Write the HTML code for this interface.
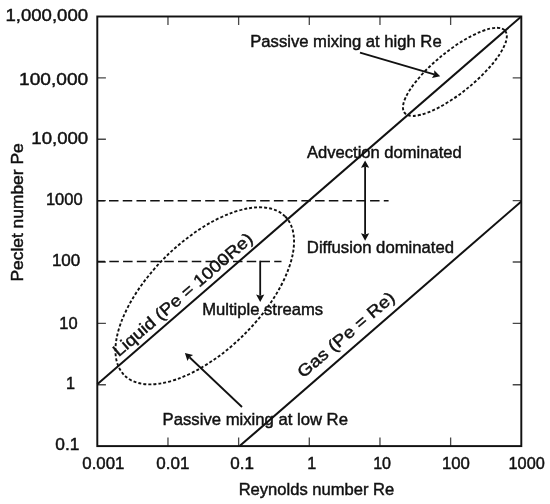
<!DOCTYPE html>
<html><head><meta charset="utf-8">
<style>
html,body{margin:0;padding:0;background:#fff;}
svg{display:block;}
text{font-family:"Liberation Sans",sans-serif;fill:#111;stroke:#111;stroke-width:0.45px;}
</style></head>
<body>
<svg width="550" height="504" viewBox="0 0 550 504">
<rect width="550" height="504" fill="#fff"/>
<!-- ticks -->
<g stroke="#484848" stroke-width="1.3" fill="none">
<path d="M167.97 16.5v8.6M238.63 16.5v8.6M309.30 16.5v8.6M379.97 16.5v8.6M450.63 16.5v8.6"/>
<path d="M167.97 446.1v-8.6M238.63 446.1v-8.6M309.30 446.1v-8.6M379.97 446.1v-8.6M450.63 446.1v-8.6"/>
<path d="M97.3 77.87h8.6M97.3 139.24h8.6M97.3 200.61h8.6M97.3 261.99h8.6M97.3 323.36h8.6M97.3 384.73h8.6"/>
<path d="M521.3 77.87h-8.6M521.3 139.24h-8.6M521.3 200.61h-8.6M521.3 261.99h-8.6M521.3 323.36h-8.6M521.3 384.73h-8.6"/>
</g>
<!-- dashed -->
<g stroke="#111" stroke-width="1.6" fill="none" stroke-dasharray="9.5 4.24">
<path d="M97.3 200.7H388.6" stroke-dashoffset="2.04"/>
<path d="M97.3 261.5H281.5" stroke-dashoffset="1.7"/>
</g>
<!-- ellipses -->
<g stroke="#111" stroke-width="1.9" fill="none" stroke-dasharray="3 2.05">
<ellipse cx="0" cy="0" rx="113" ry="55.2" transform="translate(204.75 295.85) rotate(-44.6)"/>
<ellipse cx="0" cy="0" rx="64.9" ry="20.7" transform="translate(454.9 71.85) rotate(-39.25)"/>
</g>
<!-- main lines -->
<g stroke="#111" stroke-width="2.0" fill="none">
<path d="M97.3 384.3L521.3 16.5"/>
<path d="M239.6 446.1L521.3 201.4"/>
</g>
<!-- axes box -->
<rect x="97.3" y="16.5" width="424" height="429.60" fill="none" stroke="#111" stroke-width="1.95"/>
<g stroke="#111" stroke-width="1.8" fill="none">
<path d="M360.00 52.70L434.15 74.43"/>
<path d="M365.10 234.40L365.10 166.70"/>
<path d="M260.20 260.70L260.20 295.70"/>
<path d="M242.00 407.00L189.47 357.23"/>
</g>
<g fill="#111" stroke="none">
<path d="M440.20 76.20L431.95 78.05L434.15 74.43L434.25 70.18z"/>
<path d="M365.10 160.40L369.20 167.80L365.10 166.70L361.00 167.80z"/><path d="M365.10 240.70L361.00 233.30L365.10 234.40L369.20 233.30z"/>
<path d="M260.20 302.00L256.10 294.60L260.20 295.70L264.30 294.60z"/>
<path d="M184.90 352.90L193.09 355.01L189.47 357.23L187.45 360.97z"/>
</g>
<text transform="translate(5.42 21.10) scale(1.0751 1)" font-size="17.3">1,000,000</text>
<text transform="translate(19.08 84.50) scale(1.1064 1)" font-size="17.3">100,000</text>
<text transform="translate(31.32 144.20) scale(1.0759 1)" font-size="17.3">10,000</text>
<text transform="translate(45.93 205.20) scale(1.0198 1)" font-size="16.2">1000</text>
<text transform="translate(51.89 266.30) scale(1.0507 1)" font-size="16.2">100</text>
<text transform="translate(59.33 328.60) scale(1.0171 1)" font-size="16.2">10</text>
<text transform="translate(65.90 389.40) scale(1.0000 1)" font-size="16.2">1</text>
<text transform="translate(55.33 450.00) scale(1.0698 1)" font-size="16.2">0.1</text>
<text transform="translate(82.35 468.80) scale(1.0377 1)" font-size="16.2">0.001</text>
<text transform="translate(156.34 468.80) scale(1.0490 1)" font-size="16.2">0.01</text>
<text transform="translate(230.34 468.80) scale(1.0509 1)" font-size="16.2">0.1</text>
<text transform="translate(307.30 468.80) scale(1.0000 1)" font-size="16.2">1</text>
<text transform="translate(373.16 468.80) scale(0.9922 1)" font-size="16.2">10</text>
<text transform="translate(441.91 468.80) scale(1.0348 1)" font-size="16.2">100</text>
<text transform="translate(508.54 468.80) scale(1.0051 1)" font-size="16.2">1000</text>
<text transform="translate(238.63 495.00) scale(0.9977 1)" font-size="16.6">Reynolds number Re</text>
<text transform="translate(250.22 47.00) scale(1.0034 1)" font-size="16.6">Passive mixing at high Re</text>
<text transform="translate(307.00 158.00) scale(0.9982 1)" font-size="16.6">Advection dominated</text>
<text transform="translate(306.82 253.30) scale(1.0064 1)" font-size="16.6">Diffusion dominated</text>
<text transform="translate(202.22 315.00) scale(1.0011 1)" font-size="16.6">Multiple streams</text>
<text transform="translate(162.62 425.10) scale(1.0056 1)" font-size="16.6">Passive mixing at low Re</text>
<text transform="translate(22.60 281.60) rotate(-90) scale(1.1164 1)" font-size="15.6">Peclet number Pe</text>
<text transform="translate(118.82 357.32) rotate(-40.85) scale(1.1364 1)" font-size="16.6">Liquid (Pe = 1000Re)</text>
<text transform="translate(303.34 378.55) rotate(-40.53) scale(1.1441 1)" font-size="16.6">Gas (Pe = Re)</text>
</svg>
</body></html>
